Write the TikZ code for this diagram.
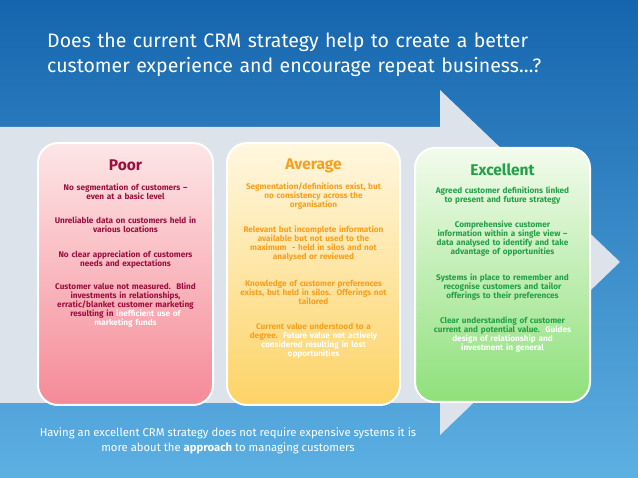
\documentclass[tikz,border=0pt]{standalone}
\usepackage{fontspec}
\setmainfont{Fira Sans}
\definecolor{bgtop}{HTML}{1565AE}
\definecolor{bgbot}{HTML}{5DB0E2}
\definecolor{arrowgrey}{HTML}{DCE3EA}
\definecolor{poorc}{HTML}{9A0F3F}
\definecolor{avgc}{HTML}{F5A020}
\definecolor{excc}{HTML}{22A048}
\definecolor{ptop}{HTML}{FDE6E6}
\definecolor{pbot}{HTML}{F58A98}
\definecolor{atop}{HTML}{FFF7E0}
\definecolor{abot}{HTML}{FDD366}
\definecolor{etop}{HTML}{F2FBEC}
\definecolor{ebot}{HTML}{8EE07A}
\tikzset{
 card/.style={draw=white, line width=2pt, rounded corners=20pt},
 ttl/.style={font=\fontsize{15.5}{18}\selectfont\bfseries},
 itm/.style={font=\fontsize{8.2}{9}\selectfont\bfseries, text width=168pt, align=center, inner sep=0pt},
}
\begin{document}
\begin{tikzpicture}[x=1pt,y=-1pt]
\useasboundingbox (0,0) rectangle (638,478);
\shade[top color=bgtop, bottom color=bgbot] (0,0) rectangle (638,478);
\fill[arrowgrey] (0,127) -- (440,127) -- (440,90) -- (620,262) -- (440,435) -- (440,403) -- (0,403) -- cycle;
\node[anchor=west, text=white, font=\fontsize{19.5}{25}\selectfont, align=left, text width=570pt, inner sep=0] (title) at (47,55)
 {Does the current CRM strategy help to create a better\\customer experience and encourage repeat business…?};
\path[card, top color=ptop, bottom color=pbot] (38,143) rectangle (213,405);
\path[card, top color=atop, bottom color=abot] (227,143) rectangle (400,405);
\path[card, top color=etop, bottom color=ebot] (415,148) rectangle (590,402);
% Poor
\node[ttl, text=poorc] (p0) at (125.5,165) {Poor};
\node[itm, text=poorc] (p1) at (125.5,192) {No segmentation of customers –\\even at a basic level};
\node[itm, text=poorc] (p2) at (125.5,225) {Unreliable data on customers held in\\various locations};
\node[itm, text=poorc] (p3) at (125.5,260) {No clear appreciation of customers\\needs and expectations};
\node[itm, text=poorc] (p4) at (125.5,305) {Customer value not measured.\ \ Blind\\investments in relationships,\\erratic/blanket customer marketing\\resulting in \textcolor{white}{inefficient use of}\\\textcolor{white}{marketing funds}};
% Average
\node[ttl, text=avgc] (a0) at (313.5,166) {Average};
\node[itm, text=avgc] (a1) at (313.5,196) {Segmentation/definitions exist, but\\no consistency across the\\organisation};
\node[itm, text=avgc] (a2) at (313.5,244) {Relevant but incomplete information\\available but not used to the\\maximum\ \ - held in silos and not\\analysed or reviewed};
\node[itm, text=avgc] (a3) at (313.5,292) {Knowledge of customer preferences\\exists, but held in silos.\ \ Offerings not\\tailored};
\node[itm, text=avgc] (a4) at (313.5,341) {Current value understood to a\\degree.\ \ \textcolor{white}{Future value not actively}\\\textcolor{white}{considered resulting in lost}\\\textcolor{white}{opportunities}};
% Excellent
\node[ttl, text=excc] (e0) at (502.5,170) {Excellent};
\node[itm, text=excc] (e1) at (502.5,196) {Agreed customer definitions linked\\to present and future strategy};
\node[itm, text=excc] (e2) at (502.5,239) {Comprehensive customer\\information within a single view –\\data analysed to identify and take\\advantage of opportunities};
\node[itm, text=excc] (e3) at (502.5,287) {Systems in place to remember and\\recognise customers and tailor\\offerings to their preferences};
\node[itm, text=excc] (e4) at (502.5,335) {Clear understanding of customer\\current and potential value.\ \ \textcolor{white}{Guides}\\\textcolor{white}{design of relationship and}\\\textcolor{white}{investment in general}};
\node[text=white, font=\fontsize{11.3}{15}\selectfont, align=center, inner sep=0] (foot) at (228,441)
 {Having an excellent CRM strategy does not require expensive systems it is\\more about the \textbf{approach} to managing customers};
\end{tikzpicture}
\end{document}
